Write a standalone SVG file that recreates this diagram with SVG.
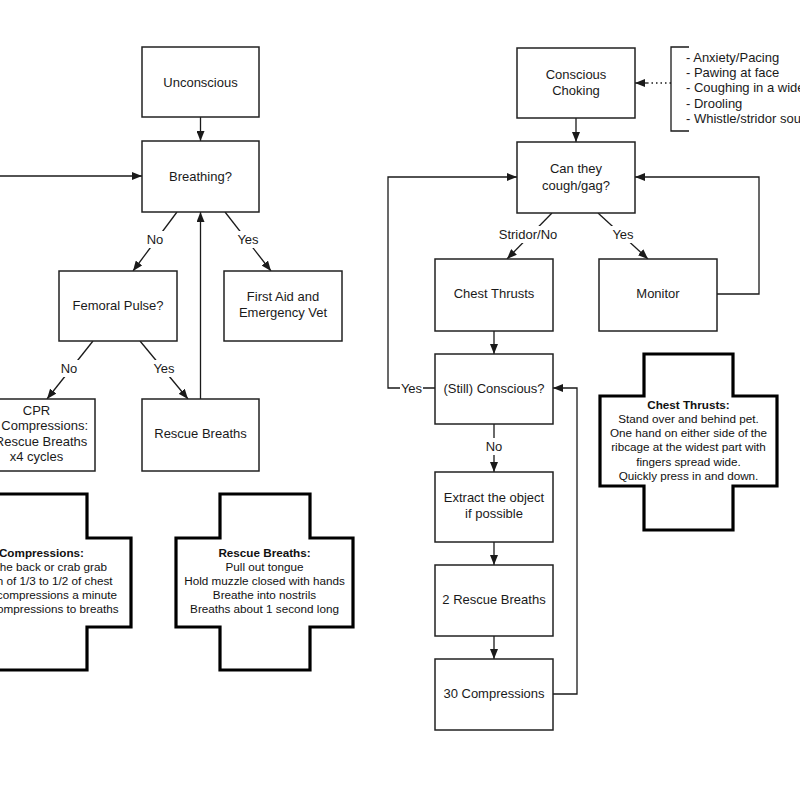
<svg xmlns="http://www.w3.org/2000/svg" width="800" height="800" viewBox="0 0 800 800">
<defs>
<marker id="ah" markerUnits="userSpaceOnUse" markerWidth="10" markerHeight="8" refX="10" refY="4" orient="auto">
<path d="M0,0 L10,4 L0,8 z" fill="#1a1a1a"/>
</marker>
<style>
.box{fill:#fff;stroke:#222;stroke-width:1.5}
.cross{fill:#fff;stroke:#000;stroke-width:3.2}
.t{font-family:"Liberation Sans",Arial,sans-serif;font-size:13px;fill:#1a1a1a;text-anchor:middle}
.l{font-family:"Liberation Sans",Arial,sans-serif;font-size:13px;fill:#1a1a1a;text-anchor:start}
.c{font-family:"Liberation Sans",Arial,sans-serif;font-size:11.7px;fill:#111;text-anchor:middle}
.ce{font-family:"Liberation Sans",Arial,sans-serif;font-size:11.7px;fill:#111;text-anchor:end}
.b{font-weight:bold}
.cn{fill:none;stroke:#1a1a1a;stroke-width:1.3}
.ar{marker-end:url(#ah)}
.lb{fill:#fff}
</style>
</defs>
<rect x="0" y="0" width="800" height="800" fill="#fff"/>
<g id="connectors">
<path class="cn ar" d="M200.5,117 V141"/>
<path class="cn ar" d="M0,176 H142"/>
<path class="cn ar" d="M177,212 L133,271"/>
<path class="cn ar" d="M225,212 L271,271"/>
<path class="cn ar" d="M93,341 L47,399"/>
<path class="cn ar" d="M140,341 L188,399"/>
<path class="cn ar" d="M200.5,399 V212"/>
<path class="cn" d="M671,83 H648" stroke-dasharray="1.5,3"/>
<path class="cn ar" d="M648,83 H635"/>
<path class="cn ar" d="M576,118 V142"/>
<path class="cn ar" d="M552,213 L507,259"/>
<path class="cn ar" d="M598,213 L648,259"/>
<path class="cn ar" d="M717,294 H759 V177 H635"/>
<path class="cn ar" d="M494,331 V354"/>
<path class="cn ar" d="M435,388 H388 V177 H517"/>
<path class="cn ar" d="M494,424 V472"/>
<path class="cn ar" d="M494,542 V565"/>
<path class="cn ar" d="M494,636 V659"/>
<path class="cn ar" d="M553,694 H577 V388 H553"/>
<rect class="lb" x="145" y="231" width="20" height="17"/>
<text class="t" x="155" y="244">No</text>
<rect class="lb" x="236" y="231" width="24" height="17"/>
<text class="t" x="248" y="244">Yes</text>
<rect class="lb" x="59" y="360" width="20" height="17"/>
<text class="t" x="69" y="373">No</text>
<rect class="lb" x="152" y="360" width="24" height="17"/>
<text class="t" x="164" y="373">Yes</text>
<rect class="lb" x="498" y="226" width="60" height="17"/>
<text class="t" x="528" y="239">Stridor/No</text>
<rect class="lb" x="611" y="226" width="24" height="17"/>
<text class="t" x="623" y="239">Yes</text>
<rect class="lb" x="400" y="380" width="23" height="17"/>
<text class="t" x="411.5" y="392.5">Yes</text>
<rect class="lb" x="484" y="438" width="20" height="17"/>
<text class="t" x="494" y="451">No</text>
</g>
<g id="n_unconscious">
<rect class="box" x="142" y="47" width="117" height="70"/>
<text class="t" x="200.5" y="86.5">Unconscious</text>
</g>
<g id="n_breathing">
<rect class="box" x="142" y="141" width="117" height="71"/>
<text class="t" x="200.5" y="181">Breathing?</text>
</g>
<g id="n_femoral">
<rect class="box" x="59" y="271" width="118" height="70"/>
<text class="t" x="118" y="310">Femoral Pulse?</text>
</g>
<g id="n_firstaid">
<rect class="box" x="224" y="271" width="118" height="70"/>
<text class="t" x="283" y="300.5">First Aid and</text>
<text class="t" x="283" y="316.5">Emergency Vet</text>
</g>
<g id="n_cpr">
<rect class="box" x="-22" y="399" width="117" height="72"/>
<text class="t" x="36.5" y="414.5">CPR</text>
<text class="l" x="3.5" y="430" text-anchor="end" style="text-anchor:end" transform="translate(84.5,0)">Compressions:</text>
<text class="l" x="87.3" y="445.5" style="text-anchor:end">Rescue Breaths</text>
<text class="t" x="36.5" y="461">x4 cycles</text>
</g>
<g id="n_rescue">
<rect class="box" x="142" y="399" width="117" height="72"/>
<text class="t" x="200.5" y="437.5">Rescue Breaths</text>
</g>
<g id="n_comp_note">
<path class="cross" d="M-3,494 H87 V538 H131 V627 H87 V670 H-3 V627 H-46 V538 H-3 Z"/>
<text class="ce b" x="84" y="557">Compressions:</text>
<text class="ce" x="107" y="571">he back or crab grab</text>
<text class="ce" x="112.5" y="585">h of 1/3 to 1/2 of chest</text>
<text class="ce" x="117" y="599">compressions a minute</text>
<text class="ce" x="118.5" y="613">ompressions to breaths</text>
</g>
<g id="n_rescue_note">
<path class="cross" d="M220,494 H310 V538 H353 V627 H310 V670 H220 V627 H176 V538 H220 Z"/>
<text class="c b" x="264.5" y="557">Rescue Breaths:</text>
<text class="c" x="264.5" y="571">Pull out tongue</text>
<text class="c" x="264.5" y="585">Hold muzzle closed with hands</text>
<text class="c" x="264.5" y="599">Breathe into nostrils</text>
<text class="c" x="264.5" y="613">Breaths about 1 second long</text>
</g>
<g id="n_conscious_choking">
<rect class="box" x="517" y="48" width="118" height="70"/>
<text class="t" x="576" y="78.5">Conscious</text>
<text class="t" x="576" y="94.5">Choking</text>
</g>
<g id="n_signs">
<path class="cn" d="M689,47 H671 V131 H689" stroke-width="1.5"/>
<text class="l" x="686" y="61.5">- Anxiety/Pacing</text>
<text class="l" x="686" y="76.5">- Pawing at face</text>
<text class="l" x="686" y="92">- Coughing in a wide</text>
<text class="l" x="686" y="107.5">- Drooling</text>
<text class="l" x="686" y="123">- Whistle/stridor sou</text>
</g>
<g id="n_can">
<rect class="box" x="517" y="142" width="118" height="71"/>
<text class="t" x="576" y="172.5">Can they</text>
<text class="t" x="576" y="189.5">cough/gag?</text>
</g>
<g id="n_chest">
<rect class="box" x="435" y="259" width="118" height="72"/>
<text class="t" x="494" y="297.5">Chest Thrusts</text>
</g>
<g id="n_monitor">
<rect class="box" x="599" y="259" width="118" height="72"/>
<text class="t" x="658" y="297.5">Monitor</text>
</g>
<g id="n_still">
<rect class="box" x="435" y="354" width="118" height="70"/>
<text class="t" x="494" y="392.5">(Still) Conscious?</text>
</g>
<g id="n_extract">
<rect class="box" x="435" y="472" width="118" height="70"/>
<text class="t" x="494" y="501.5">Extract the object</text>
<text class="t" x="494" y="517.5">if possible</text>
</g>
<g id="n_2rb">
<rect class="box" x="435" y="565" width="118" height="71"/>
<text class="t" x="494" y="603.5">2 Rescue Breaths</text>
</g>
<g id="n_30c">
<rect class="box" x="435" y="659" width="118" height="71"/>
<text class="t" x="494" y="697.5">30 Compressions</text>
</g>
<g id="n_chest_note">
<path class="cross" d="M644,354 H733 V396 H777 V486 H733 V530 H644 V486 H600 V396 H644 Z"/>
<text class="c b" x="688.5" y="409">Chest Thrusts:</text>
<text class="c" x="688.5" y="423">Stand over and behind pet.</text>
<text class="c" x="688.5" y="437">One hand on either side of the</text>
<text class="c" x="688.5" y="451">ribcage at the widest part with</text>
<text class="c" x="688.5" y="466">fingers spread wide.</text>
<text class="c" x="688.5" y="480">Quickly press in and down.</text>
</g>
</svg>
